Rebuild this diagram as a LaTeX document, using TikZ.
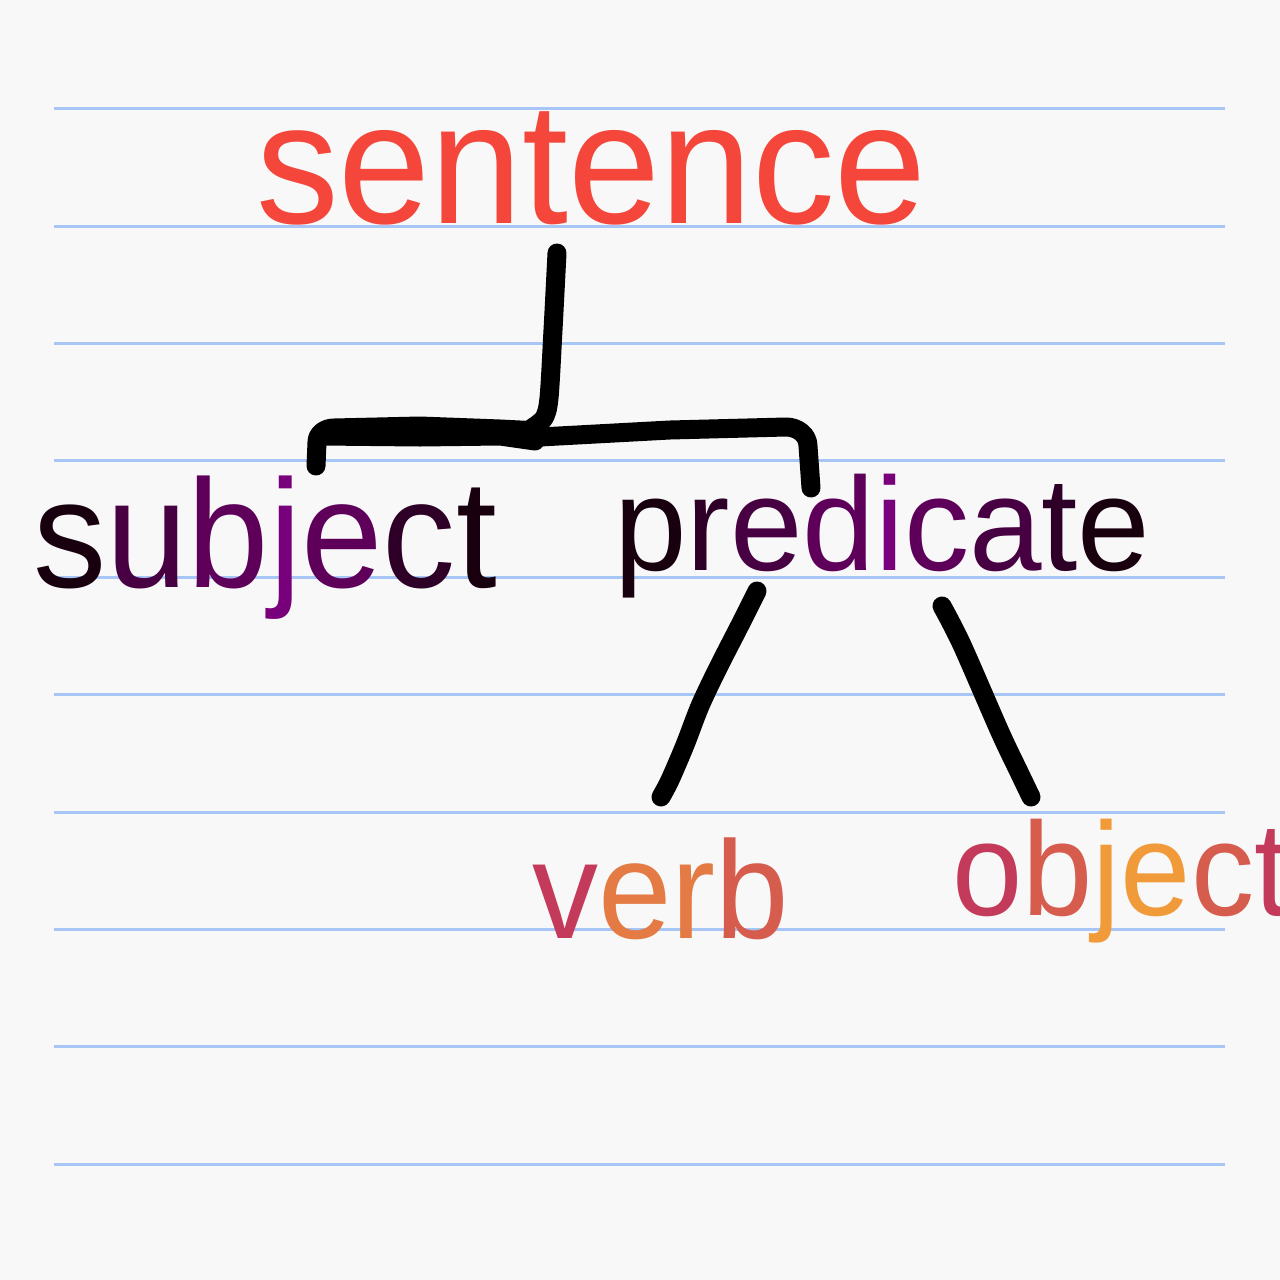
\documentclass[tikz,border=0pt]{standalone}
\usepackage{fontspec}
\usepackage{graphicx}
\setmainfont{Liberation Sans}
\usetikzlibrary{calc,positioning}
\definecolor{paper}{HTML}{F8F8F8}
\definecolor{rule}{HTML}{A8C6F5}
\definecolor{sred}{HTML}{F4463A}
% purple gradient
\definecolor{pa}{HTML}{18000F}
\definecolor{pb}{HTML}{2E0028}
\definecolor{pc}{HTML}{470042}
\definecolor{pd}{HTML}{5E005A}
\definecolor{pe}{HTML}{78007A}
% orange gradient
\definecolor{oa}{HTML}{C43A5A}
\definecolor{ob}{HTML}{D65C4E}
\definecolor{oc}{HTML}{E47A44}
\definecolor{od}{HTML}{F09A3A}
\def\c(#1,#2){\textcolor{#1}{#2}}
\tikzstyle{pen} = [line width=19pt, line cap=round, line join=round, black]
\tikzstyle{word} = [anchor=base west, inner sep=0pt]
\begin{document}
\begin{tikzpicture}[x=1pt, y=-1pt]
\useasboundingbox (0,0) rectangle (1280,1280);
\fill[paper] (0,0) rectangle (1280,1280);
\clip (0,0) rectangle (1280,1280);
% ruled lines
\foreach \y in {108,226,343,460,577,694,812,929,1046,1164}
  \draw[rule, line width=3pt] (54,\y) -- (1225,\y);
% words
\node[word, font=\fontsize{173}{173}\selectfont, text=sred] (s) at (256,223)
  {\scalebox{0.955}[1]{sentence}};
\node[word, font=\fontsize{154}{154}\selectfont] (subj) at (33,587)
  {\scalebox{0.95}[1]{\c(pa,s)\c(pc,u)\c(pd,b)\c(pe,j)\c(pd,e)\c(pb,c)\c(pa,t)}};
\node[word, font=\fontsize{133}{133}\selectfont] (pred) at (614,570)
  {\scalebox{0.98}[1]{\c(pa,p)\c(pb,r)\c(pc,e)\c(pd,d)\c(pe,i)\c(pd,c)\c(pc,a)\c(pb,t)\c(pa,e)}};
\node[word, font=\fontsize{139}{139}\selectfont] (verb) at (532,938)
  {\scalebox{0.95}[1]{\c(oa,v)\c(oc,e)\c(oc,r)\c(ob,b)}};
\node[word, font=\fontsize{133}{133}\selectfont] (obj) at (952,915)
  {\scalebox{0.95}[1]{\c(oa,o)\c(ob,b)\c(od,j)\c(od,e)\c(ob,c)\c(oa,t)}};
% strokes
\coordinate (c1) at (557,253);
\coordinate (c2) at (316,466);
\coordinate (c3) at (811,488);
\coordinate (c4) at (757,591);
\coordinate (c5) at (661,797);
\coordinate (c6) at (942,606);
\coordinate (c7) at (1031,797);
\draw[pen] plot[smooth] coordinates {(c1) (553,330) (549,398) (544,418) (532,428)};
\draw[pen] (c2) -- (317,442) to[out=90,in=180] (334,428) -- (420,426) -- (500,429) -- (540,431);
\draw[pen] (322,436) -- (420,437) -- (500,436) -- (535,441);
\draw[pen] (540,437) -- (670,430) -- (786,427) to[out=0,in=90] (808,446) -- (c3);
\draw[pen] plot[smooth] coordinates {(c4) (740,625) (718,668) (700,706) (685,745) (670,780) (c5)};
\draw[pen] plot[smooth] coordinates {(c6) (962,645) (1000,732) (1019,772) (c7)};
\end{tikzpicture}
\end{document}
